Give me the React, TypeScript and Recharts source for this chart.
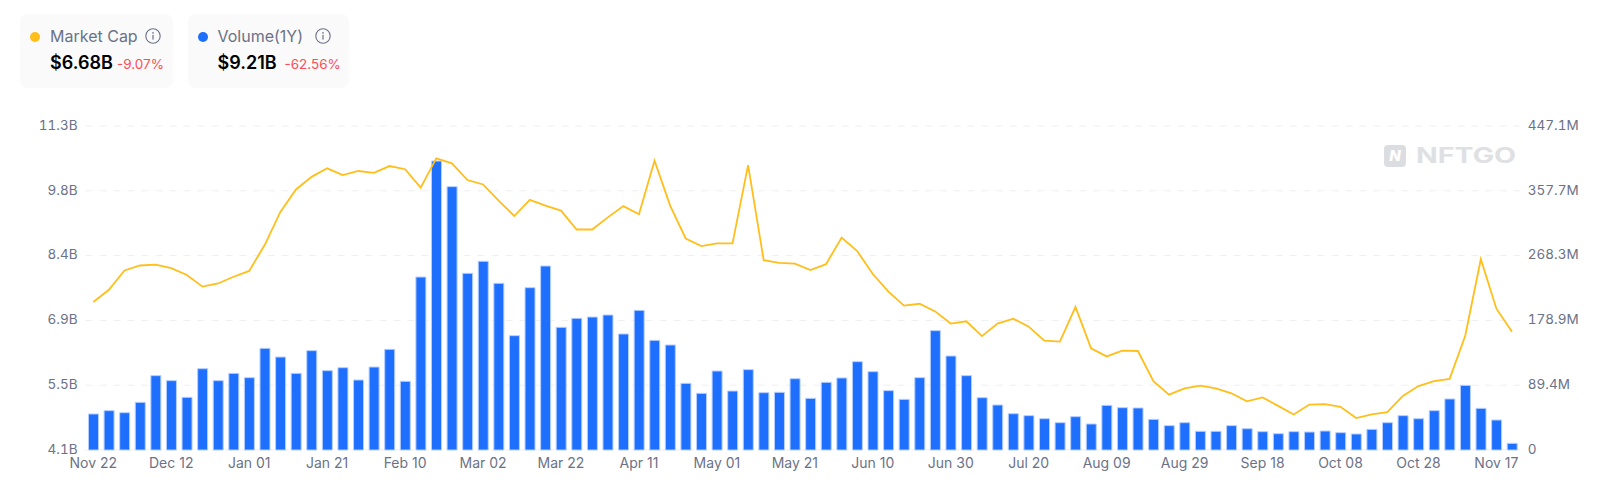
import { ComposedChart, Bar, Line, XAxis, YAxis, CartesianGrid } from 'recharts';

const DATES = [
  'Nov 22', 'Nov 26', 'Nov 30', 'Dec 04', 'Dec 08', 'Dec 12', 'Dec 16', 'Dec 20', 'Dec 24', 'Dec 28',
  'Jan 01', 'Jan 05', 'Jan 09', 'Jan 13', 'Jan 17', 'Jan 21', 'Jan 25', 'Jan 29', 'Feb 02', 'Feb 06',
  'Feb 10', 'Feb 14', 'Feb 18', 'Feb 22', 'Feb 26', 'Mar 02', 'Mar 06', 'Mar 10', 'Mar 14', 'Mar 18',
  'Mar 22', 'Mar 26', 'Mar 30', 'Apr 03', 'Apr 07', 'Apr 11', 'Apr 15', 'Apr 19', 'Apr 23', 'Apr 27',
  'May 01', 'May 05', 'May 09', 'May 13', 'May 17', 'May 21', 'May 25', 'May 29', 'Jun 02', 'Jun 06',
  'Jun 10', 'Jun 14', 'Jun 18', 'Jun 22', 'Jun 26', 'Jun 30', 'Jul 04', 'Jul 08', 'Jul 12', 'Jul 16',
  'Jul 20', 'Jul 24', 'Jul 28', 'Aug 01', 'Aug 05', 'Aug 09', 'Aug 13', 'Aug 17', 'Aug 21', 'Aug 25',
  'Aug 29', 'Sep 02', 'Sep 06', 'Sep 10', 'Sep 14', 'Sep 18', 'Sep 22', 'Sep 26', 'Sep 30', 'Oct 04',
  'Oct 08', 'Oct 12', 'Oct 16', 'Oct 20', 'Oct 24', 'Oct 28', 'Nov 01', 'Nov 05', 'Nov 09', 'Nov 13',
  'Nov 17', 'Nov 21',
];

// market cap, in billions
const MARKET_CAP = [
  7.39, 7.66, 8.09, 8.2, 8.22, 8.14, 7.99, 7.73, 7.8, 7.95,
  8.08, 8.66, 9.39, 9.89, 10.17, 10.36, 10.21, 10.3, 10.26, 10.41,
  10.34, 9.93, 10.58, 10.47, 10.1, 10.0, 9.64, 9.3, 9.66, 9.53,
  9.42, 9.0, 9.0, 9.27, 9.52, 9.34, 10.53, 9.53, 8.8, 8.63,
  8.69, 8.69, 10.43, 8.32, 8.26, 8.24, 8.1, 8.23, 8.82, 8.52,
  8.01, 7.62, 7.31, 7.35, 7.18, 6.91, 6.96, 6.63, 6.91, 7.02,
  6.84, 6.53, 6.51, 7.28, 6.36, 6.18, 6.31, 6.3, 5.63, 5.33,
  5.47, 5.53, 5.47, 5.36, 5.18, 5.27, 5.08, 4.89, 5.11, 5.12,
  5.06, 4.81, 4.89, 4.94, 5.3, 5.52, 5.63, 5.68, 6.64, 8.34,
  7.24, 6.73,
];

// volume, in millions
const VOLUME = [
  49.7, 54.3, 51.5, 65.8, 102.6, 95.7, 72.7, 112.2, 95.7, 105.8,
  99.8, 140.3, 128.3, 105.8, 137.1, 109.5, 113.6, 96.6, 114.5, 138.9,
  94.8, 238.7, 398.8, 363.4, 243.8, 260.4, 230, 157.8, 224, 253.9,
  169.3, 181.7, 183.5, 186.3, 160.1, 192.7, 151.3, 144.9, 92, 78.2,
  109, 81.4, 110.9, 79.1, 79.6, 98.4, 71.3, 93.4, 99.4, 121.9,
  108.1, 81.9, 69.9, 99.8, 164.7, 129.7, 102.6, 72.2, 62.1, 50.1,
  47.4, 43.2, 37.7, 46, 35.9, 61.6, 58.4, 58, 42.3, 33.6,
  37.7, 25.8, 25.8, 33.6, 29.4, 25.3, 22.5, 25.3, 24.8, 26.2,
  23.9, 22.1, 28.5, 37.7, 47.4, 43.2, 54.3, 70.4, 89.2, 57.5,
  41.4, 9.2,
];

const LEFT_TICKS = [4.1, 5.54, 6.98, 8.42, 9.86, 11.3];
const LEFT_LABELS = ['4.1B', '5.5B', '6.9B', '8.4B', '9.8B', '11.3B'];
const RIGHT_TICKS = [0, 89.42, 178.84, 268.26, 357.68, 447.1];
const RIGHT_LABELS = ['0', '89.4M', '178.9M', '268.3M', '357.7M', '447.1M'];

const CARDS = [
  { name: 'Market Cap', value: '$6.68B', change: '-9.07%', color: '#ffbe1a', left: 20, width: 153, icon: 133, pct: 97 },
  { name: 'Volume(1Y)', value: '$9.21B', change: '-62.56%', color: '#1f6fff', left: 187.5, width: 161.5, icon: 135.5, pct: 97 },
];

const FONT = 'Inter, sans-serif';
const GREY = '#6b7287';

const rows = DATES.map((date, i) => ({ date, cap: MARKET_CAP[i], volume: VOLUME[i] }));

function Card({ card }: { card: (typeof CARDS)[number] }) {
  return (
    <div style={{ position: 'absolute', left: card.left, top: 14, width: card.width, height: 74, background: '#fafafa', borderRadius: 8 }}>
      <div style={{ position: 'absolute', left: 10, top: 17.5, width: 10, height: 10, borderRadius: 5, background: card.color }} />
      <div style={{ position: 'absolute', left: 30, top: 12, fontSize: 16, lineHeight: '21px', color: GREY, whiteSpace: 'nowrap' }}>{card.name}</div>
      <svg style={{ position: 'absolute', left: card.icon - 8, top: 14 }} width={16} height={16} viewBox="0 0 16 16">
        <circle cx={8} cy={8} r={7.2} fill="none" stroke={GREY} strokeWidth={1.1} />
        <circle cx={8} cy={4.9} r={0.8} fill={GREY} />
        <rect x={7.4} y={6.8} width={1.2} height={4.8} fill={GREY} />
      </svg>
      <div style={{ position: 'absolute', left: 30, top: 37, fontSize: 18, lineHeight: '24px', fontWeight: 600, color: '#000', whiteSpace: 'nowrap' }}>{card.value}</div>
      <div style={{ position: 'absolute', left: card.pct, top: 40, fontSize: 13.5, lineHeight: '20px', color: '#ff4d55', whiteSpace: 'nowrap' }}>{card.change}</div>
    </div>
  );
}

function Watermark() {
  return (
    <>
      <div style={{ position: 'absolute', left: 1384, top: 145, width: 22, height: 22, borderRadius: 4, background: '#dcdde0', color: '#fff', fontSize: 15, lineHeight: '22px', fontWeight: 800, fontStyle: 'italic', textAlign: 'center' }}>N</div>
      <div style={{ position: 'absolute', left: 1416, top: 143, fontSize: 21, lineHeight: '25px', fontWeight: 700, color: '#dfe0e3', whiteSpace: 'nowrap', transform: 'scaleX(1.36)', transformOrigin: 'left center' }}>NFTGO</div>
    </>
  );
}

export default function App() {
  const tick = { fontSize: 14, fill: GREY, fontFamily: FONT };
  const sideTick = { ...tick, fontSize: 13.5, dy: -1, style: { fontFeatureSettings: '"tnum"' } };
  return (
    <div style={{ position: 'absolute', left: 0, top: 0, width: 1600, height: 491, fontFamily: FONT, background: '#fff' }}>
      {CARDS.map((card) => <Card key={card.name} card={card} />)}
      <ComposedChart width={1600} height={491} data={rows} margin={{ top: 126, right: 10.2, bottom: 11, left: 25.5 }}>
        <CartesianGrid yAxisId="left" vertical={false} stroke="#efefef" strokeDasharray="7 7" />
        <XAxis dataKey="date" interval={4} tick={tick} tickLine={false} axisLine={false} tickSize={0} tickMargin={8} height={30} />
        <YAxis yAxisId="left" domain={[4.1, 11.3]} ticks={LEFT_TICKS} tickFormatter={(_v: number, i: number) => LEFT_LABELS[i]} tick={sideTick} tickLine={false} axisLine={false} tickSize={0} tickMargin={8} width={60} />
        <YAxis yAxisId="right" orientation="right" domain={[0, 447.1]} ticks={RIGHT_TICKS} tickFormatter={(_v: number, i: number) => RIGHT_LABELS[i]} tick={sideTick} tickLine={false} axisLine={false} tickSize={0} tickMargin={8} width={70} />
        <Bar yAxisId="right" dataKey="volume" fill="#1f6fff" stroke="#b4cfff" strokeWidth={1} barSize={10} isAnimationActive={false} />
        <Line yAxisId="left" dataKey="cap" type="linear" stroke="#ffbe1a" strokeWidth={1.8} dot={false} activeDot={false} isAnimationActive={false} />
      </ComposedChart>
      <Watermark />
    </div>
  );
}
